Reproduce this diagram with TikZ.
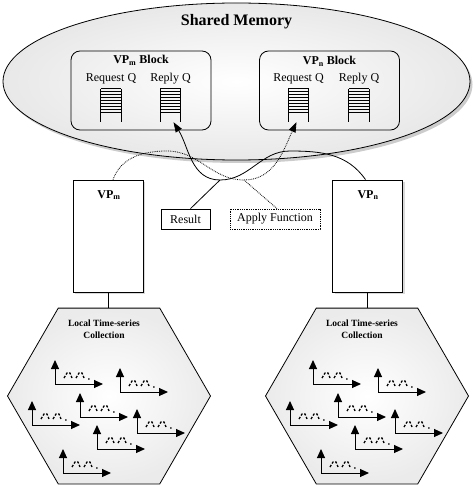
\documentclass[tikz,border=0pt]{standalone}
\usepackage{fontspec}
\setmainfont{Liberation Serif}
\usetikzlibrary{positioning,shapes.geometric,shadows,arrows.meta}

\tikzset{
    memory/.style={ellipse,draw,line width=0.8pt,inner sep=0pt,
        minimum width=467pt,minimum height=157pt,
        inner color=white,outer color=gray!18,
        drop shadow={opacity=0.4,shadow xshift=2.5pt,shadow yshift=-3pt}},
    vpblock/.style={draw,rounded corners=9pt,line width=0.8pt,
        minimum width=140pt,minimum height=79pt},
    queue/.style={inner sep=0pt,minimum width=20pt,minimum height=33pt},
    vpbox/.style={draw,fill=white,line width=0.8pt,
        minimum width=70pt,minimum height=112pt,
        drop shadow={opacity=0.3,shadow xshift=2pt,shadow yshift=-2pt}},
    msgbox/.style={draw,fill=white,line width=0.8pt,minimum height=20pt,inner sep=0pt},
    collection/.style={regular polygon,regular polygon sides=6,draw,line width=0.8pt,
        minimum size=203pt,inner sep=0pt,inner color=white,outer color=gray!16},
    lbl/.style={font=\fontsize{12}{14}\selectfont},
    request/.style={densely dotted,line width=0.8pt},
    reply/.style={line width=0.8pt},
    tsaxis/.style={line width=1pt,-{Triangle[length=9pt,width=8pt]}},
    tswave/.style={line width=1.3pt,dash pattern=on 2.4pt off 1.6pt}
}

\begin{document}
\begin{tikzpicture}[x=1pt,y=1pt]
    \useasboundingbox (0,0) rectangle (474,-486);
    % shared memory with the two blocks
    \node[memory] (shm) at (236.5,-81.5) {};
    \node[font=\fontsize{16}{19}\selectfont\bfseries] (shmlab) at (236.5,-22) {Shared Memory};
    \node[vpblock] (vpmblk) at (141,-90.5) {};
    \node[vpblock] (vpnblk) at (329.5,-90.5) {};
    \node[lbl,font=\fontsize{12}{14}\selectfont\bfseries] (vpmtitle) at (141,-60) {VP\textsubscript{m} Block};
    \node[lbl,font=\fontsize{12}{14}\selectfont\bfseries] (vpntitle) at (329.5,-61.5) {VP\textsubscript{n} Block};
    \foreach \q/\x in {vpmreq/111,vpmrep/170.5,vpnreq/298.5,vpnrep/359}{
        \node[queue] (\q) at (\x,-105.5) {};
        \draw[line width=0.7pt] (\q.north west) -- (\q.south west) (\q.north east) -- (\q.south east);
        \foreach \k in {0,...,8}
            \draw[line width=0.7pt] ([yshift=-\k*3pt]\q.north west) -- ([yshift=-\k*3pt]\q.north east);
        \node[lbl] (\q lab) at (\x,-79) {\ifnum\pdfstrcmp{\q}{vpmreq}=0 Request Q\else\ifnum\pdfstrcmp{\q}{vpnreq}=0 Request Q\else Reply Q\fi\fi};
    }

    % virtual processors and their collections
    \node[vpbox] (vpm) at (108,-236) {};
    \node[vpbox] (vpn) at (367.5,-236) {};
    \node[lbl,font=\fontsize{12}{14}\selectfont\bfseries] (vpmlab) at (109,-195) {VP\textsubscript{m}};
    \node[lbl,font=\fontsize{12}{14}\selectfont\bfseries] (vpnlab) at (368,-195) {VP\textsubscript{n}};
    \node[collection] (hexm) at (109,-396) {};
    \node[collection] (hexn) at (367,-396) {};
    \draw[line width=0.8pt] (vpm.south) -- (vpm.south |- hexm.north);
    \draw[line width=0.8pt] (vpn.south) -- (vpn.south |- hexn.north);
    \foreach \h in {hexm,hexn}{
        \node[align=center,font=\fontsize{9.5}{12}\selectfont\bfseries] (\h lab) at ([xshift=-5pt,yshift=67pt]\h.center) {Local Time-series\\Collection};
        \foreach \dx/\dy in {-54/12,11/4,-77/-29,-29/-21,28/-37,-12/-53,-46/-77}{
            \draw[tsaxis] ([shift={(\dx,\dy)}]\h.center) -- ++(0,24);
            \draw[tsaxis] ([shift={(\dx,\dy)}]\h.center) -- ++(48,0);
            \draw[tswave] ([shift={(\dx+9,\dy+6)}]\h.center) -- ++(3,5) -- ++(3,0) -- ++(2,-5)
                ++(4,0) -- ++(3,5) -- ++(3,0) -- ++(2,-5) ++(4,-1) -- ++(1.5,0);
        }
    }

    % messages
    \node[msgbox,lbl,minimum width=49pt] (result) at (185.5,-219) {Result};
    \node[msgbox,lbl,minimum width=90pt,densely dotted] (apply) at (275,-219) {Apply Function};
    \coordinate (reqtop) at (167,-151);
    \coordinate (reqdip) at (244,-180);
    \coordinate (reptop) at (290,-151);
    \coordinate (repdip) at (220,-180);
    \draw[request,-{Triangle[length=10pt,width=7pt]}] ([xshift=5pt]vpm.north) to[out=70,in=180] (reqtop)
        to[out=0,in=180] (reqdip) to[out=0,in=-115] ([xshift=-2pt]vpnreq.south);
    \draw[reply,-{Triangle[length=10pt,width=7pt]}] ([xshift=-2pt]vpn.north) to[out=125,in=0] (reptop)
        to[out=180,in=0] (repdip) to[out=180,in=-58] ([xshift=3pt]vpmrep.south);
    \draw[reply] ([xshift=5pt]result.north) -- (repdip);
    \draw[request] ([xshift=2pt]apply.north) -- (reqdip);
\end{tikzpicture}
\end{document}
